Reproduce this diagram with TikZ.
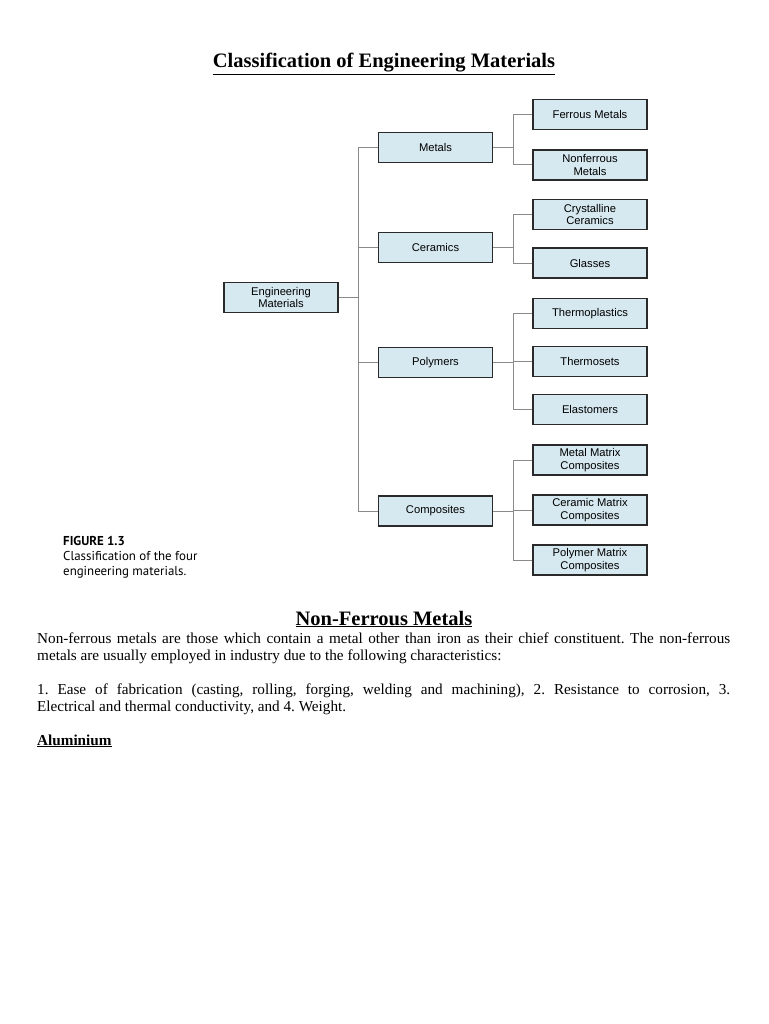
\documentclass[tikz,border=0pt]{standalone}
\usepackage{fontspec}
\setmainfont{Liberation Serif}
\newfontfamily\boxfont{Liberation Sans}
\newfontfamily\capfont{PT Sans}
\usetikzlibrary{positioning}
\definecolor{boxblue}{HTML}{D6E9F0}
\definecolor{boxline}{HTML}{2A2A2A}
\definecolor{linkgray}{HTML}{8A8A8A}
\newcommand{\fline}[1]{\makebox[693pt][s]{#1}}
\frenchspacing
\begin{document}
\begin{tikzpicture}[
     x=1pt,y=-1pt,
     mat/.style={draw=boxline,line width=1.2pt,fill=boxblue,minimum width=114pt,minimum height=30pt,
       inner sep=1pt,align=center,font=\boxfont\fontsize{11.2}{12.5}\selectfont},
     link/.style={draw=linkgray,line width=1pt},
     body/.style={anchor=base west,inner sep=0pt,font=\fontsize{15.2}{17}\selectfont}
   ]
   \path[use as bounding box,fill=white] (0,0) rectangle (768,1024);
   % Title.
   \node[anchor=base,inner sep=0pt,font=\bfseries\fontsize{20.5}{23}\selectfont] (title) at (384,68)
     {\underline{Classification of Engineering Materials}};
   % Tree boxes.
   \node[mat] (eng) at (281,297.5) {Engineering\\Materials};
   \node[mat] (metals) at (435.5,147.5) {Metals};
   \node[mat] (ceram) at (435.5,247.5) {Ceramics};
   \node[mat] (poly) at (435.5,362.5) {Polymers};
   \node[mat] (comp) at (435.5,511) {Composites};
   \node[mat] (ferrous) at (590,114.5) {Ferrous Metals};
   \node[mat] (nonferrous) at (590,165) {Nonferrous\\Metals};
   \node[mat] (cryst) at (590,214.5) {Crystalline\\Ceramics};
   \node[mat] (glass) at (590,263) {Glasses};
   \node[mat] (thplast) at (590,313.5) {Thermoplastics};
   \node[mat] (thset) at (590,361.5) {Thermosets};
   \node[mat] (elast) at (590,409.5) {Elastomers};
   \node[mat] (mmc) at (590,460) {Metal Matrix\\Composites};
   \node[mat] (cmc) at (590,510) {Ceramic Matrix\\Composites};
   \node[mat] (pmc) at (590,560) {Polymer Matrix\\Composites};
   % Links.
   \coordinate (trunk) at (358,0);
   \coordinate (fork) at (513,0);
   \draw[link] (eng.east) -- (eng.east -| trunk);
   \draw[link] (metals.west -| trunk) -- (comp.west -| trunk);
   \foreach \m in {metals,ceram,poly,comp}
     \draw[link] (\m.west -| trunk) -- (\m.west);
   \foreach \m/\a/\b in {metals/ferrous/nonferrous,ceram/cryst/glass,poly/thplast/elast,comp/mmc/pmc}{
     \draw[link] (\m.east) -- (\m.east -| fork);
     \draw[link] (\a.west -| fork) -- (\b.west -| fork);
   }
   \foreach \k in {ferrous,nonferrous,cryst,glass,thplast,thset,elast,mmc,cmc,pmc}
     \draw[link] (\k.west -| fork) -- (\k.west);
   % Caption.
   \node[anchor=base west,inner sep=0pt,align=left,font=\capfont\fontsize{12.9}{15}\selectfont] (cap) at (63,575)
     {\textbf{FIGURE 1.3}\\Classification of the four\\engineering materials.};
   % Text below.
   \node[anchor=base,inner sep=0pt,font=\bfseries\fontsize{20.5}{23}\selectfont] (head) at (384,625)
     {\underline{Non-Ferrous Metals}};
   \node[body] (l1) at (37,643) {\fline{Non-ferrous metals are those which contain a metal other than iron as their chief constituent. The non-ferrous}};
   \node[body] (l2) at (37,660) {metals are usually employed in industry due to the following characteristics:};
   \node[body] (l3) at (37,694) {\fline{1. Ease of fabrication (casting, rolling, forging, welding and machining), 2. Resistance to corrosion, 3.}};
   \node[body] (l4) at (37,711) {Electrical and thermal conductivity, and 4. Weight.};
   \node[body,font=\bfseries\fontsize{15.2}{17}\selectfont] (alu) at (37,745) {\underline{Aluminium}};
 \end{tikzpicture}
\end{document}
